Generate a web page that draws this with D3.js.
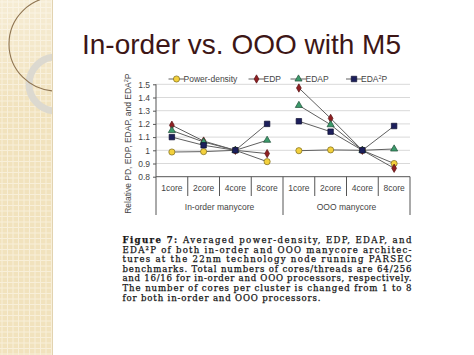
<!DOCTYPE html>
<html><head><meta charset="utf-8">
<script src="https://cdn.jsdelivr.net/npm/d3@7"></script>
<style>html,body{margin:0;padding:0;background:#fff;}svg{display:block;}</style>
</head><body>
<script>
const groups = ["In-order manycore", "OOO manycore"];
const cores = ["1core", "2core", "4core", "8core"];
const powerDensity = [0.987, 0.99, 1.0, 0.914, 0.997, 1.003, 1.0, 0.90];
const edp = [1.19, 1.07, 1.0, 0.975, 1.472, 1.242, 1.0, 0.864];
const edap = [1.15, 1.063, 1.0, 1.076, 1.34, 1.194, 1.0, 1.01];
const eda2p = [1.10, 1.038, 1.0, 1.20, 1.22, 1.141, 1.0, 1.184];
const yTicks = [0.8, 0.9, 1.0, 1.1, 1.2, 1.3, 1.4, 1.5];
const seriesNames = ["Power-density", "EDP", "EDAP", "EDA²P"];
const captionLines = [
  "Averaged power-density, EDP, EDAP, and",
  "EDA²P of both in-order and OOO manycore architec-",
  "tures at the 22nm technology node running PARSEC",
  "benchmarks. Total numbers of cores/threads are 64/256",
  "and 16/16 for in-order and OOO processors, respectively.",
  "The number of cores per cluster is changed from 1 to 8",
  "for both in-order and OOO processors."
];

const W = 474, H = 355;
const svg = d3.select("body").append("svg").attr("width", W).attr("height", H);

// left decorative strip
const defs = svg.append("defs");
defs.append("clipPath").attr("id", "strip").append("rect").attr("x", 0).attr("y", 0).attr("width", 52).attr("height", H);
const fade = defs.append("linearGradient").attr("id", "fade").attr("x1", 0).attr("x2", 0).attr("y1", 0).attr("y2", 1);
fade.append("stop").attr("offset", 0).attr("stop-color", "#fff").attr("stop-opacity", 0.35);
fade.append("stop").attr("offset", 1).attr("stop-color", "#fff").attr("stop-opacity", 0);
const strip = svg.append("g").attr("clip-path", "url(#strip)");
strip.append("rect").attr("width", 52).attr("height", H).attr("fill", "#f1e2bd");
for (let gx = 2; gx < 52; gx += 5.5) strip.append("line").attr("x1", gx).attr("x2", gx).attr("y1", 0).attr("y2", H).attr("stroke", "#f8efd9").attr("stroke-width", 1);
for (let gy = 2; gy < H; gy += 5.5) strip.append("line").attr("x1", 0).attr("x2", 52).attr("y1", gy).attr("y2", gy).attr("stroke", "#f8efd9").attr("stroke-width", 1);
strip.append("rect").attr("width", 52).attr("height", 110).attr("fill", "url(#fade)");
strip.append("circle").attr("cx", 56).attr("cy", 84).attr("r", 27).attr("fill", "none").attr("stroke", "#dcd9d0").attr("stroke-width", 7);
strip.append("circle").attr("cx", 56).attr("cy", 44).attr("r", 47).attr("fill", "none").attr("stroke", "#8f7552").attr("stroke-width", 1.1);
svg.append("line").attr("x1", 52.5).attr("x2", 52.5).attr("y1", 0).attr("y2", H).attr("stroke", "#e2d3b0").attr("stroke-width", 1);

// title
svg.append("text").attr("x", 82).attr("y", 54).attr("font-family", "Liberation Sans, Arial, sans-serif")
  .attr("font-size", 28).attr("fill", "#3d1616").text("In-order vs. OOO with M5");

// chart
const pLeft = 156, pRight = 410, pTop = 84.3, pBottom = 176.7;
const keys = [];
groups.forEach(g => cores.forEach(c => keys.push(g + "|" + c)));
const x = d3.scaleBand().domain(keys).range([pLeft, pRight]);
const y = d3.scaleLinear().domain([0.8, 1.5]).range([pBottom, pTop]);
const chart = svg.append("g").attr("font-family", "Liberation Sans, Arial, sans-serif");

// gridlines
chart.selectAll(".grid").data(yTicks.filter(t => t > 0.8)).enter().append("line")
  .attr("x1", pLeft).attr("x2", pRight).attr("y1", d => y(d)).attr("y2", d => y(d))
  .attr("stroke", "#d9d9d9").attr("stroke-width", 1);

// y axis
const yAxis = d3.axisLeft(y).tickValues(yTicks).tickSize(3).tickFormat(d => d === 1 ? "1" : d3.format(".1f")(d));
const ya = chart.append("g").attr("transform", `translate(${pLeft},0)`).call(yAxis);
ya.select(".domain").remove();
ya.selectAll(".tick line").attr("stroke", "#555");
ya.selectAll(".tick text").attr("font-size", 8.5).attr("fill", "#444").attr("font-family", "Liberation Sans, Arial, sans-serif").attr("x", -6);
chart.append("line").attr("x1", pLeft).attr("x2", pLeft).attr("y1", pTop).attr("y2", 215).attr("stroke", "#555");
chart.append("line").attr("x1", pLeft).attr("x2", pRight).attr("y1", pBottom).attr("y2", pBottom).attr("stroke", "#555");

// category separators and labels
keys.forEach((k, i) => {
  const xr = x(k) + x.bandwidth();
  const isGroupEnd = (i % cores.length) === cores.length - 1;
  chart.append("line").attr("x1", xr).attr("x2", xr).attr("y1", pBottom).attr("y2", isGroupEnd ? 215 : 196).attr("stroke", "#555");
  chart.append("text").attr("x", x(k) + x.bandwidth() / 2).attr("y", 190.5).attr("text-anchor", "middle")
    .attr("font-size", 8.5).attr("fill", "#444").text(k.split("|")[1]);
});
groups.forEach(g => {
  const x0 = x(g + "|" + cores[0]), x1 = x(g + "|" + cores[cores.length - 1]) + x.bandwidth();
  chart.append("text").attr("x", (x0 + x1) / 2).attr("y", 209.5).attr("text-anchor", "middle")
    .attr("font-size", 8.5).attr("fill", "#444").text(g);
});

// y label
chart.append("text").attr("transform", `translate(131,${(pTop + 215) / 2 - 6}) rotate(-90)`).attr("text-anchor", "middle")
  .attr("font-size", 8.5).attr("fill", "#444")
  .html('Relative PD, EDP, EDAP, and EDA<tspan font-size="5.5" dy="-3">2</tspan><tspan dy="3">P</tspan>');

// series
const series = [
  {name: seriesNames[0], vals: powerDensity, shape: d3.symbolCircle, size: 30, fill: "#f3d03c", stroke: "#7a6a20"},
  {name: seriesNames[1], vals: edp, shape: d3.symbolDiamond, size: 20, fill: "#8e1f22", stroke: "#5a1416"},
  {name: seriesNames[2], vals: edap, shape: d3.symbolTriangle, size: 22, fill: "#3c9a6b", stroke: "#1f4f38"},
  {name: seriesNames[3], vals: eda2p, shape: d3.symbolSquare, size: 30, fill: "#1c1f5c", stroke: "#0f1030"}
];
const line = d3.line().x(d => x(d.k) + x.bandwidth() / 2).y(d => y(d.v));
series.forEach(s => {
  groups.forEach((g, gi) => {
    const pts = cores.map((c, ci) => ({k: g + "|" + c, v: s.vals[gi * cores.length + ci]}));
    chart.append("path").attr("d", line(pts)).attr("fill", "none").attr("stroke", "#606060").attr("stroke-width", 1);
  });
});
series.forEach(s => {
  chart.selectAll(null).data(keys.map((k, i) => ({k, v: s.vals[i]}))).enter().append("path")
    .attr("d", d3.symbol().type(s.shape).size(s.size))
    .attr("transform", d => `translate(${x(d.k) + x.bandwidth() / 2},${y(d.v)})`)
    .attr("fill", s.fill).attr("stroke", s.stroke).attr("stroke-width", 0.7);
});

// legend
const legX = [176.5, 256.5, 298.5, 354];
const legY = 79;
series.forEach((s, i) => {
  const lg = chart.append("g").attr("transform", `translate(${legX[i]},${legY})`);
  lg.append("line").attr("x1", -8).attr("x2", 8).attr("stroke", "#606060").attr("stroke-width", 1);
  lg.append("path").attr("d", d3.symbol().type(s.shape).size(s.size)).attr("fill", s.fill).attr("stroke", s.stroke).attr("stroke-width", 0.7);
  const t = lg.append("text").attr("x", 7).attr("y", 3).attr("font-size", 8.5).attr("fill", "#444");
  if (i === 3) t.html('EDA<tspan font-size="5.5" dy="-3">2</tspan><tspan dy="3">P</tspan>');
  else t.text(s.name);
});

// caption
const cap = svg.append("g").attr("font-family", "DejaVu Serif, serif").attr("fill", "#151515");
const capLeft = 122.5, capRight = 411.5, capY0 = 243, capDy = 9.6;
captionLines.forEach((ln, i) => {
  const t = cap.append("text").attr("x", capLeft).attr("y", capY0 + i * capDy).attr("font-size", 8.6)
    .attr("stroke", "#151515").attr("stroke-width", 0.25);
  if (i < captionLines.length - 1) t.attr("textLength", capRight - capLeft).attr("lengthAdjust", "spacing");
  else t.attr("textLength", 198).attr("lengthAdjust", "spacing");
  if (i === 0) {
    t.append("tspan").attr("font-weight", "bold").text("Figure 7:  ");
    t.append("tspan").text(ln);
  } else if (ln.includes("²")) {
    const parts = ln.split("²");
    t.append("tspan").text(parts[0]);
    t.append("tspan").attr("font-size", 5.2).attr("dy", -2.6).text("2");
    t.append("tspan").attr("dy", 2.6).text(parts[1]);
  } else {
    t.text(ln);
  }
});
</script>
</body></html>
